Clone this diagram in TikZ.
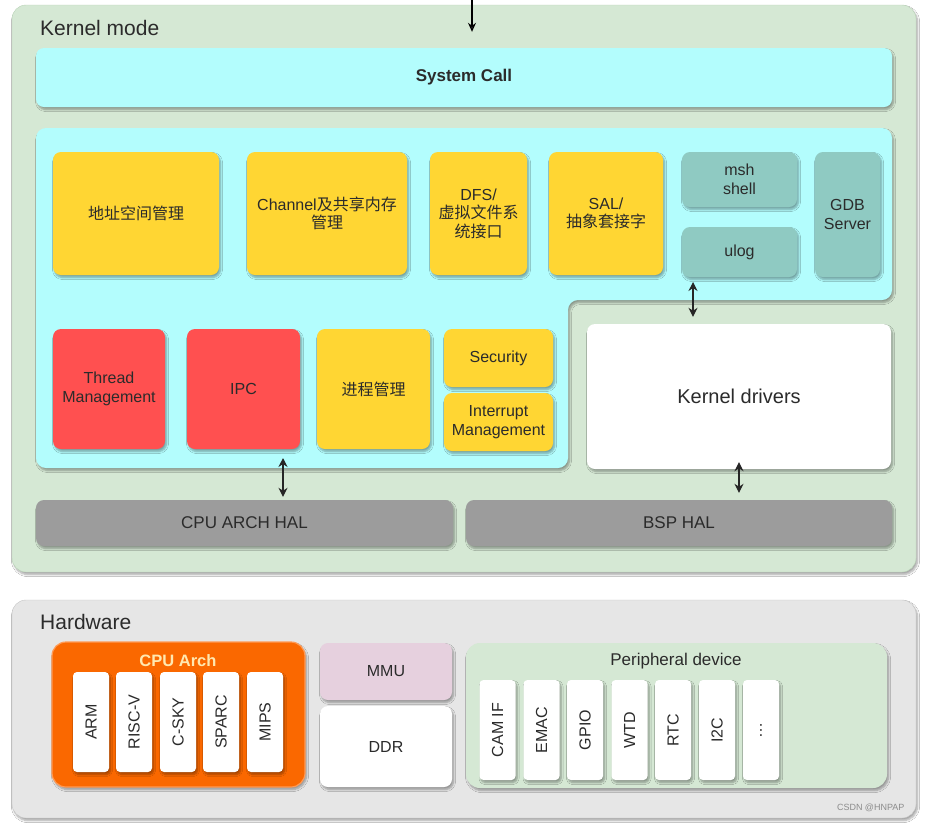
\documentclass[tikz,border=0pt]{standalone}
\usepackage{fontspec}
\setmainfont{Liberation Sans}
\newfontfamily\cjk{Noto Sans CJK SC}
\usepackage{tikz}
\usetikzlibrary{arrows.meta,shadows.blur}
\definecolor{kgreen}{HTML}{D5E8D4}
\definecolor{kgreendk}{HTML}{B9D3B7}
\definecolor{kcyan}{HTML}{B3FDFD}
\definecolor{kyellow}{HTML}{FFD633}
\definecolor{kteal}{HTML}{8FCAC2}
\definecolor{kred}{HTML}{FF5050}
\definecolor{khal}{HTML}{9C9C9C}
\definecolor{hwgray}{HTML}{E6E6E6}
\definecolor{hwgraydk}{HTML}{C4C4C4}
\definecolor{korange}{HTML}{FA6800}
\definecolor{korangelt}{HTML}{FF9A55}
\definecolor{klabel}{HTML}{FFE8B0}
\definecolor{kpink}{HTML}{E6D0DE}
\definecolor{txtInk}{HTML}{2B2B2B}
\tikzset{
  every picture/.append style={font=\fontsize{16}{18.5}\selectfont},
  sz/.style 2 args = {minimum width=#1, minimum height=#2},
  shd/.style      = {blur shadow={shadow xshift=1.5pt, shadow yshift=-2.5pt,
                     shadow blur radius=2pt, shadow blur steps=6,
                     shadow opacity=35}},
  blk/.style      = {shd, rounded corners=8pt, inner sep=2pt, align=center,
                     text=txtInk},
  area/.style     = {shd, rounded corners=14pt, inner sep=0pt},
  ylw/.style      = {blk, fill=kyellow},
  tel/.style      = {blk, fill=kteal},
  rd/.style       = {blk, fill=kred},
  hal/.style      = {blk, fill=khal, font=\fontsize{17}{19}\selectfont},
  wht/.style      = {blk, fill=white},
  tile/.style     = {blk, fill=white, rounded corners=4pt, sz={36}{100}},
  ttl/.style      = {anchor=west, inner sep=0pt, text=txtInk,
                     font=\fontsize{21}{24}\selectfont},
  arr/.style      = {-{Stealth[length=9pt, width=8pt]}, line width=1.1pt},
  darr/.style     = {{Stealth[length=9pt, width=9pt]}-{Stealth[length=9pt, width=9pt]},
                     line width=1.1pt, draw=black!85},
}

\begin{document}
\begin{tikzpicture}[x=1pt, y=-1pt]
  \useasboundingbox[fill=white] (0,0) rectangle (928,823);
  % kernel part
  \node[area, fill=kgreen, draw=kgreendk, sz={904}{567}] (kern) at (464,288.5) {};
  \node[ttl] (kernt) at (40,28) {Kernel mode};
  \node[blk, fill=kcyan, sz={856}{59}, font=\fontsize{17}{19}\selectfont\bfseries]
    (sys) at (464,77.5) {System Call};
  \fill[shd, kcyan, rounded corners=10pt]
    (36,128) -- (892,128) -- (892,300) -- (568,300) -- (568,468) -- (36,468) -- cycle;
  \node[ylw, sz={166}{123}] (addr) at (136,213.5) {\cjk 地址空间管理};
  \node[ylw, sz={160}{123}] (chan) at (327,213.5) {Channel{\cjk 及共享内存}\\{\cjk 管理}};
  \node[ylw, sz={97}{123}] (dfs) at (478.5,213.5) {DFS/\\{\cjk 虚拟文件系}\\{\cjk 统接口}};
  \node[ylw, sz={114}{123}] (sal) at (606,213.5) {SAL/\\{\cjk 抽象套接字}};
  \node[tel, sz={115}{55}] (msh) at (739.5,179.5) {msh\\shell};
  \node[tel, sz={115}{50}] (ulog) at (739.5,252) {ulog};
  \node[tel, sz={65}{125}] (gdb) at (847.5,214.5) {GDB\\Server};
  \node[rd, sz={112}{120}] (thread) at (109,389) {Thread\\Management};
  \node[rd, sz={113}{120}] (ipc) at (243.5,389) {IPC};
  \node[ylw, sz={113}{120}] (proc) at (373.5,389) {\cjk 进程管理};
  \node[ylw, sz={109}{58}] (sec) at (498.5,358) {Security};
  \node[ylw, sz={109}{58}] (irq) at (498.5,422) {Interrupt\\Management};
  \node[wht, sz={304}{145}, font=\fontsize{20}{22}\selectfont] (drv) at (739,396.5)
    {Kernel drivers};
  \node[hal, sz={417}{46}] (cpuhal) at (244.5,523) {CPU ARCH HAL};
  \node[hal, sz={426}{46}] (bsphal) at (679,523) {BSP HAL};
  \coordinate (entry) at (472,0);
  \coordinate (corebot) at (283,468);
  \coordinate (svcbot) at (693,300);
  \draw[arr, shorten >=16pt] (entry) -- (entry |- sys.north);
  \draw[darr, shorten <=-10pt, shorten >=3pt] (corebot) -- (corebot |- cpuhal.north);
  \draw[darr, shorten <=-18pt, shorten >=7pt] (svcbot) -- (svcbot |- drv.north);
  \draw[darr, shorten <=-7pt, shorten >=7pt] (drv.south) -- (drv.south |- bsphal.north);
  % hardware part
  \node[area, fill=hwgray, draw=hwgraydk, sz={904}{218}] (hw) at (464,709) {};
  \node[ttl] (hwt) at (40,622) {Hardware};
  \node[area, fill=korange, draw=korangelt, line width=1.2pt, sz={253}{145}]
    (cpu) at (178.5,714.5) {};
  \node[text=klabel, font=\fontsize{16.5}{18}\selectfont\bfseries] (cput) at (178,661)
    {CPU Arch};
  \foreach \x/\t [count=\i] in {91/ARM,134/RISC-V,178/C-SKY,221/SPARC,265/MIPS}{
    \node[tile] (arch\i) at (\x,722) {};
    \node[rotate=90, text=txtInk] at (arch\i) {\t};}
  \node[blk, fill=kpink, sz={132}{57}] (mmu) at (386,671.5) {MMU};
  \node[wht, sz={132}{81}] (ddr) at (386,746.5) {DDR};
  \node[area, fill=kgreen, sz={421}{145}] (periph) at (676.5,715.5) {};
  \node[text=txtInk, font=\fontsize{17}{19}\selectfont] (pert) at (676,661)
    {Peripheral device};
  \foreach \x/\t [count=\i] in {497.5/CAM IF,541.5/EMAC,585/GPIO,629.5/WTD,
                                673/RTC,717/I2C,761/\dots}{
    \node[tile] (dev\i) at (\x,730) {};
    \node[rotate=90, text=txtInk] at (dev\i) {\t};}
  \node[anchor=east, text=black!45, font=\fontsize{9}{10}\selectfont] (wm) at (908,808)
    {CSDN @HNPAP};
\end{tikzpicture}
\end{document}
